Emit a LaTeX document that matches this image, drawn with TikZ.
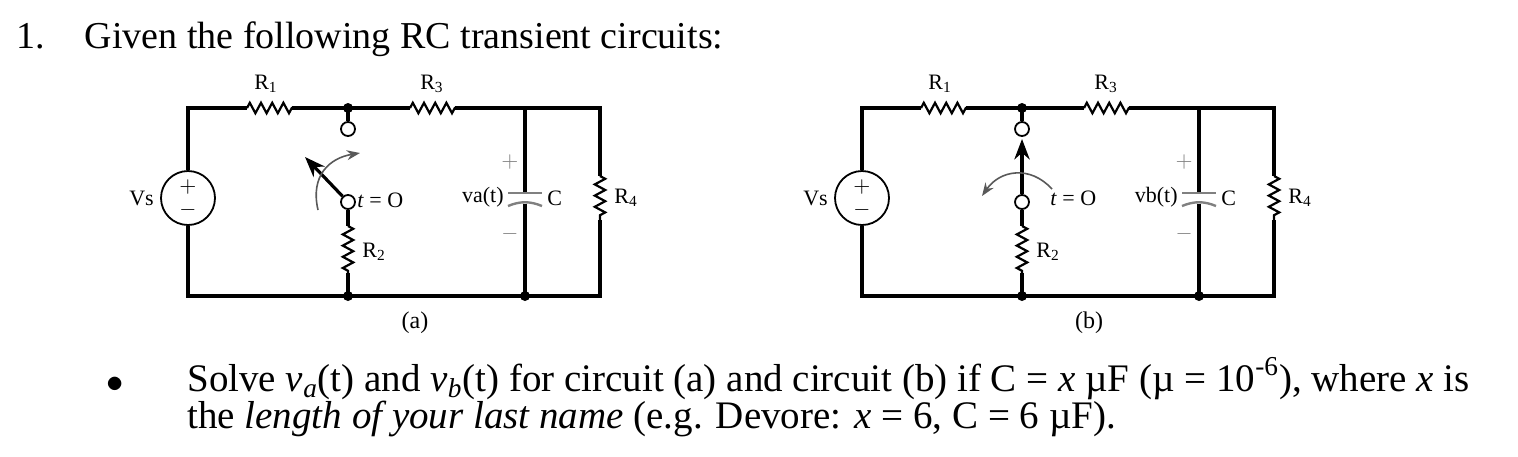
\documentclass[tikz,border=0pt]{standalone}
\usepackage{fontspec}
\setmainfont{Liberation Serif}
\usetikzlibrary{positioning}
\usetikzlibrary{decorations.pathmorphing}
\usetikzlibrary{arrows.meta}

\begin{document}
\begin{tikzpicture}[x=0.5pt, y=-0.5pt, >=Stealth]
            % Set styles
            \tikzset{
                wire/.style={
                        line width=1.6pt,
                        line join=miter
                    }
            }
            \tikzset{
                resistor/.style={
                        line width=1.1pt,
                        decorate,
                        decoration={zigzag, segment length=5.6pt, amplitude=2.6pt}
                    }
            }
            \tikzset{
                term/.style={
                        draw,
                        circle,
                        fill=white,
                        line width=0.9pt,
                        inner sep=0pt,
                        minimum size=7pt
                    }
            }
            \tikzset{
                dot/.style={
                        circle,
                        fill=black,
                        inner sep=0pt,
                        minimum size=5pt
                    }
            }
            \tikzset{
                lbl/.style={
                        font=\fontsize{11}{13}\selectfont,
                        inner sep=1pt
                    }
            }
            \useasboundingbox (0,0) rectangle (1518,456);
            % Texts
            \node[anchor=base west, font=\fontsize{19}{22}\selectfont, inner sep=0pt](title) at (16,48){1.\hspace{1.05em}Given the following RC transient circuits:};
            \node[font=\fontsize{18}{20}\selectfont](bullet) at (115,385){$\bullet$};
            \node[anchor=base west, font=\fontsize{19.5}{22}\selectfont, inner sep=0pt](line1) at (187,391){Solve \textit{v\textsubscript{a}}(t) and \textit{v\textsubscript{b}}(t) for circuit (a) and circuit (b) if C = \textit{x} µF (µ = 10\textsuperscript{-6}), where \textit{x} is};
            \node[anchor=base west, font=\fontsize{19.5}{22}\selectfont, inner sep=0pt](line2) at (187,428){the \textit{length of your last name} (e.g. Devore: \textit{x} = 6, C = 6 µF).};
            % Both circuits
            \foreach \n/\dx/\v in {a/0/va, b/674/vb}{
                \begin{scope}[xshift=\dx*0.5pt]
                    \coordinate (\n-tl) at (188,108);
                    \coordinate (\n-bl) at (188,296);
                    \coordinate (\n-tr) at (600,108);
                    \coordinate (\n-br) at (600,296);
                    \coordinate (\n-jt) at (348,108);
                    \coordinate (\n-jb) at (348,296);
                    \coordinate (\n-ct) at (525,108);
                    \coordinate (\n-cb) at (525,296);
                    \node[draw, circle, line width=0.9pt, minimum size=27pt, inner sep=0pt](\n-vs) at (188,198){};
                    \node[lbl] at (188,187){$+$};
                    \node[lbl] at (188,210){$-$};
                    \node[lbl, left=2pt of \n-vs](\n-vsl){Vs};
                    % outer loop
                    \draw[wire] (\n-vs.north) -- (\n-tl) -- (247,108);
                    \draw[resistor] (247,108) -- (292,108);
                    \draw[wire] (292,108) -- (410,108);
                    \draw[resistor] (410,108) -- (455,108);
                    \draw[wire] (455,108) -- (\n-tr) -- (600,176);
                    \draw[resistor] (600,176) -- (600,220);
                    \draw[wire] (600,220) -- (\n-br) -- (\n-bl) -- (\n-vs.south);
                    \node[lbl](\n-r1) at (266,84){R\textsubscript{1}};
                    \node[lbl](\n-r3) at (432,84){R\textsubscript{3}};
                    \node[lbl, anchor=west](\n-r4) at (612,198){R\textsubscript{4}};
                    % capacitor
                    \draw[wire] (\n-ct) -- (525,193);
                    \draw[wire] (525,204) -- (\n-cb);
                    \draw[line width=1.2pt, gray] (508,193) -- (542,193);
                    \draw[line width=1.2pt, gray] (508,206) .. controls (520,201) and (530,201) .. (542,206);
                    \node[lbl, gray] at (510,162){$+$};
                    \node[lbl, gray] at (510,234){$-$};
                    \node[lbl, anchor=west](\n-cl) at (545,198){C};
                    \node[lbl, anchor=east](\n-vl) at (506,197){\v(t)};
                    % switch branch
                    \node[term](\n-s1) at (348,129){};
                    \node[term](\n-s2) at (348,202){};
                    \draw[wire] (\n-jt) -- (\n-s1);
                    \draw[wire] (\n-s2) -- (348,226);
                    \draw[resistor] (348,226) -- (348,273);
                    \draw[wire] (348,273) -- (\n-jb);
                    \node[lbl, anchor=west](\n-r2) at (360,252){R\textsubscript{2}};
                    \node[dot] at (\n-jt){};
                    \node[dot] at (\n-jb){};
                    \node[dot] at (\n-cb){};
                    \node at (415,323)[lbl, font=\fontsize{12}{14}\selectfont]{(\n)};
                \end{scope}
            }
            % Switch (a)
            \draw[wire, ->] (a-s2) -- (305,157);
            \draw[line width=0.8pt, gray!70!black, ->] (318,210) .. controls (310,175) and (330,158) .. (360,153);
            \node[lbl, anchor=west](a-t) at (355,200){\textit{t} = O};
            % Switch (b)
            \draw[wire, ->] (b-s2) -- (1022,139);
            \draw[line width=0.8pt, gray!70!black, ->] (1052,189) .. controls (1030,165) and (1000,170) .. (982,196);
            \node[lbl, anchor=west](b-t) at (1048,198){\textit{t} = O};
\end{tikzpicture}
\end{document}
